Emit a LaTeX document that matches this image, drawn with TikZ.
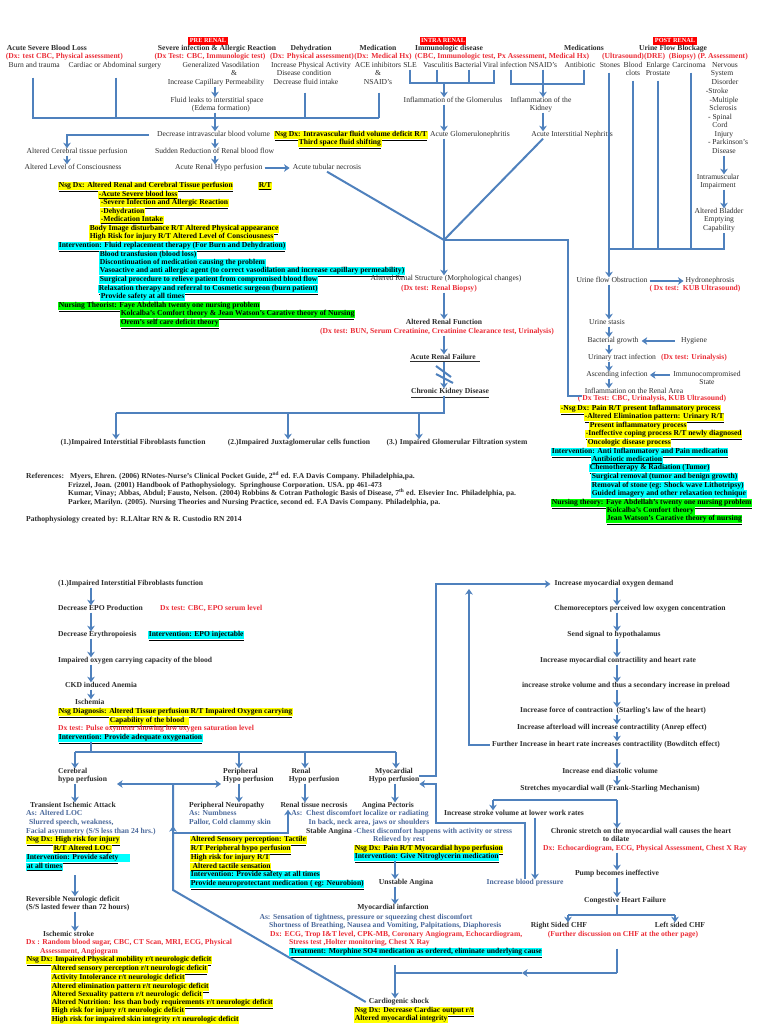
\documentclass[tikz,border=0pt]{standalone}
\usepackage{fontspec}
\setmainfont{Liberation Serif}
\usetikzlibrary{arrows.meta}
\definecolor{ablue}{RGB}{79,129,189}
\definecolor{txt}{RGB}{45,45,45}
\definecolor{rtx}{RGB}{235,45,55}
\definecolor{btx}{RGB}{75,105,155}
\definecolor{hyel}{RGB}{255,255,0}
\definecolor{hcy}{RGB}{0,255,255}
\definecolor{hgr}{RGB}{0,255,0}
\newcommand{\hlu}[1]{\underline{#1}}
\begin{document}
\begin{tikzpicture}[x=1pt,y=-1pt,
 every node/.style={inner sep=0pt, text height=5.3pt, text depth=1.7pt, font=\fontsize{7.6}{8.5}\selectfont, text=txt},
 bd/.style={font=\fontsize{7.6}{8.5}\selectfont\bfseries},
 rd/.style={bd, text=rtx},
 bt/.style={bd, text=btx},
 hy/.style={bd, text=black, fill=hyel, inner xsep=0.6pt, inner ysep=0.7pt},
 hc/.style={hy, fill=hcy},
 hg/.style={hy, fill=hgr},
 rbox/.style={font=\fontsize{6.3}{7}\selectfont\bfseries, text=white, fill=red, inner xsep=1.5pt, inner ysep=1pt, text height=4.7pt, text depth=1.3pt},
 ln/.style={draw=ablue, line width=2pt},
 arr/.style={ln, -{Stealth[length=5.5pt,width=7.5pt,inset=1.5pt]}},
 aw/.style={anchor=west},
 ae/.style={anchor=east},
]
\useasboundingbox (0,0) rectangle (768,1024);
\fill[white] (0,0) rectangle (768,1024);

% ---------------- TOP HEADINGS ----------------
\node[rbox] (pre) at (208,41) {PRE RENAL};
\node[rbox] (intra) at (443,41) {INTRA RENAL};
\node[rbox] (post) at (675,41) {POST RENAL};

\node[bd,ae] (asbl) at (87,49) {Acute Severe Blood Loss};
\node[rd,ae] (asblr) at (123,57) {(Dx: test CBC, Physical assessment)};
\node[ae] (burn) at (60,66) {Burn and trauma};
\node (cards) at (115,66) {Cardiac or Abdominal surgery};

\node[bd] (sia) at (217,49) {Severe infection \& Allergic Reaction};
\node[rd] (siar) at (210,57) {(Dx Test: CBC, Immunologic test)};
\node (genv) at (221,66) {Generalized Vasodilation};
\node (amp1) at (234,74) {\&};
\node (capp) at (216,83) {Increase Capillary Permeability};
\node (fluid) at (217,101) {Fluid leaks to interstitial space};
\node (edema) at (221,109) {(Edema formation)};

\node[bd] (dehy) at (311,49) {Dehydration};
\node[rd] (dehyr) at (312,57) {(Dx: Physical assessment)};
\node (ipa) at (311,66) {Increase Physical Activity};
\node (dcond) at (304,74) {Disease condition};
\node (dfi) at (306,83) {Decrease fluid intake};

\node[bd] (med) at (378,49) {Medication};
\node[rd] (medr) at (383,57) {(Dx: Medical Hx)};
\node (ace) at (378,66) {ACE inhibitors};
\node (amp2) at (378,74) {\&};
\node (nsaid1) at (378,83) {NSAID's};

\node[bd] (immd) at (449,49) {Immunologic disease};
\node[rd] (immr) at (502,57) {(CBC, Immunologic test, Px Assessment, Medical Hx)};
\node (sle) at (410,66) {SLE};
\node (vasc) at (438,66) {Vasculitis};
\node (bact1) at (468,66) {Bacterial};
\node (viral) at (505,66) {Viral infection};
\node (nsaid2) at (543,66) {NSAID's};
\node (antib) at (580,66) {Antibiotic};
\node[bd] (meds) at (584,49) {Medications};
\node (glom) at (453,101) {Inflammation of the Glomerulus};
\node (kid1) at (541,101) {Inflammation of the};
\node (kid2) at (541,109) {Kidney};
\node (agn) at (470,135) {Acute Glomerulonephritis};
\node (ain) at (572,135) {Acute Interstitial Nephritis};

\node[bd] (ufb) at (673,49) {Urine Flow Blockage};
\node[rd] (ufbr) at (675,57) {(Ultrasound)(DRE)\ \ (Biopsy) (P. Assessment)};
\node (stones) at (610,66) {Stones};
\node (bc1) at (633,66) {Blood};
\node (bc2) at (633,74) {clots};
\node (ep1) at (658,66) {Enlarge};
\node (ep2) at (658,74) {Prostate};
\node (carc) at (689,66) {Carcinoma};
\node (ns1) at (725,66) {Nervous};
\node (ns2) at (722,74) {System};
\node (ns3) at (725,83) {Disorder};
\node (ns4) at (717,92) {-Stroke};
\node (ns5) at (724,101) {-Multiple};
\node (ns6) at (723,109) {Sclerosis};
\node (ns7) at (720,118) {- Spinal};
\node (ns8) at (720,126) {Cord};
\node (ns9) at (724,135) {Injury};
\node (ns10) at (728,143) {- Parkinson's};
\node (ns11) at (724,152) {Disease};
\node (imp1) at (718,178) {Intramuscular};
\node (imp2) at (718,186) {Impairment};
\node (abe1) at (719,212) {Altered Bladder};
\node (abe2) at (719,220) {Emptying};
\node (abe3) at (719,229) {Capability};

\node[aw] (dint) at (157,135) {Decrease intravascular blood volume};
\node[hy,aw] (nsg1) at (274,135) {\hlu{Nsg Dx: Intravascular fluid volume deficit R/T}};
\node[hy,aw] (nsg1b) at (298,143) {\hlu{Third space fluid shifting}};
\node (acp) at (77,152) {Altered Cerebral tissue perfusion};
\node (aloc) at (73,168) {Altered Level of Consciousness};
\node[aw] (srr) at (155,152) {Sudden Reduction of Renal blood flow};
\node[aw] (arhp) at (175,168) {Acute Renal Hypo perfusion};
\node (atn) at (327,168) {Acute tubular necrosis};

% ---------------- LEFT NOTES ----------------
\node[hy,aw] (l1) at (58,186) {\hlu{Nsg Dx: Altered Renal and Cerebral Tissue perfusion}};
\node[hy,aw] (l1b) at (258,186) {\hlu{R/T}};
\node[hy,aw] (l2) at (98,195) {\hlu{-Acute Severe blood loss}};
\node[hy,aw] (l3) at (100,203) {\hlu{-Severe Infection and Allergic Reaction}};
\node[hy,aw] (l4) at (100,212) {\hlu{-Dehydration}};
\node[hy,aw] (l5) at (100,220) {\hlu{-Medication Intake}};
\node[hy,aw] (l6) at (89,229) {\hlu{Body Image disturbance R/T Altered Physical appearance}};
\node[hy,aw] (l7) at (89,237) {\hlu{High Risk for injury R/T Altered Level of Consciousness}};
\node[hc,aw] (l8) at (58,246) {\hlu{Intervention: Fluid replacement therapy (For Burn and Dehydration)}};
\node[hc,aw] (l9) at (99,255) {\hlu{Blood transfusion (blood loss)}};
\node[hc,aw] (l10) at (99,263) {\hlu{Discontinuation of medication causing the problem}};
\node[hc,aw] (l11) at (99,271) {\hlu{Vasoactive and anti allergic agent (to correct vasodilation and increase capillary permeability)}};
\node[hc,aw] (l12) at (99,280) {\hlu{Surgical procedure to relieve patient from compromised blood flow}};
\node[hc,aw] (l13) at (98,289) {\hlu{Relaxation therapy and referral to Cosmetic surgeon (burn patient)}};
\node[hc,aw] (l14) at (100,297) {\hlu{Provide safety at all times}};
\node[hg,aw] (l15) at (58,306) {\hlu{Nursing Theorist: Faye Abdellah twenty one nursing problem}};
\node[hg,aw] (l16) at (120,314) {\hlu{Kolcalba's Comfort theory \& Jean Watson's Carative theory of Nursing}};
\node[hg,aw] (l17) at (120,323) {\hlu{Orem's self care deficit theory}};

% ---------------- MIDDLE CHAIN ----------------
\node (ars) at (446,279) {Altered Renal Structure (Morphological changes)};
\node[rd] (arsr) at (439,289) {(Dx test: Renal Biopsy)};
\node[bd] (arf) at (444,323) {Altered Renal Function};
\node[rd] (arfr) at (437,332) {(Dx test: BUN, Serum Creatinine, Creatinine Clearance test, Urinalysis)};
\node[bd] (arfl) at (445,358) {\underline{Acute Renal Failure\ \ }};
\node[bd] (ckd) at (450,392) {\underline{Chronic Kidney Disease}};
\node[bd] (f1) at (133,443) {(1.)Impaired Interstitial Fibroblasts function};
\node[bd] (f2) at (299,443) {(2.)Impaired Juxtaglomerular cells function};
\node[bd] (f3) at (457,443) {(3.) Impaired Glomerular Filtration system};

\node[bd,aw] (refh) at (26,477) {References:};
\node[bd,aw] (ref1) at (70,477) {Myers, Ehren. (2006) RNotes-Nurse's Clinical Pocket Guide, 2\textsuperscript{nd} ed. F.A Davis Company. Philadelphia,pa.};
\node[bd,aw] (ref2) at (68,486) {Frizzel, Joan. (2001) Handbook of Pathophysiology.\ \ Springhouse Corporation. USA. pp 461-473};
\node[bd,aw] (ref3) at (68,494) {Kumar, Vinay; Abbas, Abdul; Fausto, Nelson. (2004) Robbins \& Cotran Pathologic Basis of Disease, 7\textsuperscript{th} ed. Elsevier Inc. Philadelphia, pa.};
\node[bd,aw] (ref4) at (68,503) {Parker, Marilyn. (2005). Nursing Theories and Nursing Practice, second ed. F.A Davis Company. Philadelphia, pa.};
\node[bd,aw] (cred) at (26,520) {Pathophysiology created by: R.I.Altar RN \& R. Custodio RN 2014};

% ---------------- RIGHT MIDDLE ----------------
\node (uobs) at (612,281) {Urine flow Obstruction};
\node (hydro) at (710,281) {Hydronephrosis};
\node[rd] (hydror) at (695,289) {( Dx test:\ \ KUB Ultrasound)};
\node (ustas) at (607,323) {Urine stasis};
\node (bgro) at (613,341) {Bacterial growth};
\node (hyg) at (694,341) {Hygiene};
\node (uti) at (622,358) {Urinary tract infection};
\node[rd] (utir) at (694,358) {(Dx test: Urinalysis)};
\node (asc) at (617,375) {Ascending infection};
\node (imc1) at (707,375) {Immunocompromised};
\node (imc2) at (707,383) {State};
\node (infl) at (634,392) {Inflammation on the Renal Area};
\node[rd] (inflr) at (652,399) {( Dx Test: CBC, Urinalysis, KUB Ultrasound)};

\node[hy,aw] (r1) at (560,409) {\hlu{-Nsg Dx: Pain R/T present Inflammatory process}};
\node[hy,aw] (r2) at (584,417) {\hlu{-Altered Elimination pattern: Urinary R/T}};
\node[hy,aw] (r3) at (589,426) {\hlu{Present inflammatory process}};
\node[hy,aw] (r4) at (585,434) {\hlu{-Ineffective coping process R/T newly diagnosed}};
\node[hy,aw] (r5) at (587,443) {\hlu{Oncologic disease process}};
\node[hc,aw] (r6) at (551,452) {\hlu{Intervention: Anti Inflammatory and Pain medication}};
\node[hc,aw] (r7) at (591,460) {\hlu{Antibiotic medication}};
\node[hc,aw] (r8) at (589,468) {\hlu{Chemotherapy \& Radiation (Tumor)}};
\node[hc,aw] (r9) at (591,477) {\hlu{Surgical removal (tumor and benign growth)}};
\node[hc,aw] (r10) at (591,486) {\hlu{Removal of stone (eg: Shock wave Lithotripsy)}};
\node[hc,aw] (r11) at (591,494) {\hlu{Guided imagery and other relaxation technique}};
\node[hg,aw] (r12) at (551,503) {\hlu{Nursing theory: Faye Abdellah's twenty one nursing problem}};
\node[hg,aw] (r13) at (606,511) {\hlu{Kolcalba's Comfort theory}};
\node[hg,aw] (r14) at (606,519) {\hlu{Jean Watson's Carative theory of nursing}};

% ---------------- BOTTOM LEFT ----------------
\node[bd,aw] (b1) at (58,584) {(1.)Impaired Interstitial Fibroblasts function};
\node[bd,aw] (b2) at (58,609) {Decrease EPO Production};
\node[rd,aw] (b2r) at (160,609) {Dx test: CBC, EPO serum level};
\node[bd,aw] (b3) at (58,635) {Decrease Erythropoiesis};
\node[hc,aw] (b3c) at (148,635) {\hlu{Intervention: EPO injectable}};
\node[bd,aw] (b4) at (58,661) {Impaired oxygen carrying capacity of the blood};
\node[bd,aw] (b5) at (65,686) {CKD induced Anemia};
\node[bd,aw] (b6) at (75,703) {Ischemia};
\node[hy,aw] (b7) at (58,712) {\hlu{Nsg Diagnosis: Altered Tissue perfusion R/T Impaired Oxygen carrying}};
\node[hy,aw] (b8) at (109,721) {\hlu{Capability of the blood\ \ }};
\node[rd,aw] (b9) at (58,729) {Dx test: Pulse oxymeter showing low oxygen saturation level};
\node[hc,aw] (b10) at (58,738) {\hlu{Intervention: Provide adequate oxygenation}};
\node[bd,aw] (cer1) at (58,772) {Cerebral};
\node[bd,aw] (cer2) at (58,780) {hypo perfusion};
\node[bd,aw] (per1) at (223,772) {Peripheral};
\node[bd,aw] (per2) at (223,780) {Hypo perfusion};
\node[bd] (ren1) at (301,772) {Renal};
\node[bd] (ren2) at (314,780) {Hypo perfusion};
\node[bd] (myo1) at (394,772) {Myocardial};
\node[bd] (myo2) at (394,780) {Hypo perfusion};

\node[bd] (tia) at (73,806) {Transient Ischemic Attack};
\node[bt,aw] (tia1) at (26,814) {As: Altered LOC};
\node[bt,aw] (tia2) at (29,823) {Slurred speech, weakness,};
\node[bt,aw] (tia3) at (26,832) {Facial asymmetry (S/S less than 24 hrs.)};
\node[hy,aw] (tia4) at (26,840) {\hlu{Nsg Dx: High risk for injury}};
\node[hy,aw] (tia5) at (53,849) {\hlu{R/T Altered LOC}};
\node[hc,aw] (tia6) at (26,858) {\hlu{Intervention: Provide safety}\hphantom{xxx}};
\node[hc,aw] (tia7) at (26,867) {\hlu{at all times}};
\node[bd,aw] (rnd1) at (26,900) {Reversible Neurologic deficit};
\node[bd,aw] (rnd2) at (26,908) {(S/S lasted fewer than 72 hours)};
\node[bd,aw] (isst) at (43,935) {Ischemic stroke};
\node[rd,aw] (isr1) at (26,943) {Dx : Random blood sugar, CBC, CT Scan, MRI, ECG, Physical};
\node[rd,aw] (isr2) at (40,952) {Assessment, Angiogram};
\node[hy,aw] (is1) at (26,960) {\hlu{Nsg Dx: Impaired Physical mobility r/t neurologic deficit}};
\node[hy,aw] (is2) at (51,969) {\hlu{Altered sensory perception r/t neurologic deficit}};
\node[hy,aw] (is3) at (51,978) {\hlu{Activity Intolerance r/t neurologic deficit}};
\node[hy,aw] (is4) at (51,987) {\hlu{Altered elimination pattern r/t neurologic deficit}};
\node[hy,aw] (is5) at (51,995) {\hlu{Altered Sexuality pattern r/t neurologic deficit}};
\node[hy,aw] (is6) at (51,1003) {\hlu{Altered Nutrition: less than body requirements r/t neurologic deficit}};
\node[hy,aw] (is7) at (51,1011) {\hlu{High risk for injury r/t neurologic deficit}};
\node[hy,aw] (is8) at (51,1020) {\hlu{High risk for impaired skin integrity r/t neurologic deficit}};

\node[bd,aw] (pn) at (189,806) {Peripheral Neuropathy};
\node[bt,aw] (pn1) at (189,814) {As: Numbness};
\node[bt,aw] (pn2) at (189,823) {Pallor, Cold clammy skin};
\node[hy,aw] (pn3) at (190,840) {\hlu{Altered Sensory perception: Tactile}};
\node[hy,aw] (pn4) at (190,849) {\hlu{R/T Peripheral hypo perfusion}};
\node[hy,aw] (pn5) at (190,858) {\hlu{High risk for injury R/T}};
\node[hy,aw] (pn6) at (190,867) {\hlu{\ Altered tactile sensation}};
\node[hc,aw] (pn7) at (190,875) {\hlu{Intervention: Provide safety at all times}};
\node[hc,aw] (pn8) at (190,884) {\hlu{Provide neuroprotectant medication ( eg: Neurobion)}};

\node[bd] (rtn) at (314,806) {Renal tissue necrosis};
\node[bd] (ang) at (388,806) {Angina Pectoris};
\node[bt] (ang1) at (360,814) {As:\ \ Chest discomfort localize or radiating};
\node[bt] (ang2) at (369,823) {In back, neck area, jaws or shoulders};
\node[bt,aw] (ang3) at (306,832) {\textcolor{txt}{Stable Angina} -Chest discomfort happens with activity or stress};
\node[bt] (ang4) at (399,840) {Relieved by rest};
\node[hy,aw] (ang5) at (354,849) {\hlu{Nsg Dx: Pain R/T Myocardial hypo perfusion}};
\node[hc,aw] (ang6) at (354,857) {\hlu{Intervention: Give Nitroglycerin medication}};
\node[bd] (ua) at (406,883) {Unstable Angina};
\node[bd] (mi) at (393,908) {Myocardial infarction};
\node[bt] (mi1) at (366,918) {As: Sensation of tightness, pressure or squeezing chest discomfort};
\node[bt,aw] (mi2) at (269,926) {Shortness of Breathing, Nausea and Vomiting, Palpitations, Diaphoresis};
\node[rd,aw] (mi3) at (270,935) {Dx: ECG, Trop I\&T level, CPK-MB, Coronary Angiogram, Echocardiogram,};
\node[rd,aw] (mi4) at (289,943) {Stress test ,Holter monitoring, Chest X Ray};
\node[hc,aw] (mi5) at (289,952) {\hlu{Treatment: Morphine SO4 medication as ordered, eliminate underlying cause}};
\node[bd] (cs) at (399,1002) {Cardiogenic shock};
\node[hy,aw] (cs1) at (354,1011) {\hlu{Nsg Dx: Decrease Cardiac output r/t}};
\node[hy,aw] (cs2) at (354,1019) {\hlu{Altered myocardial integrity}};

% ---------------- BOTTOM RIGHT ----------------
\node[bd] (dem) at (614,584) {Increase myocardial oxygen demand};
\node[bd] (chem) at (640,609) {Chemoreceptors perceived low oxygen concentration};
\node[bd] (hyp) at (614,635) {Send signal to hypothalamus};
\node[bd] (imc) at (618,661) {Increase myocardial contractility and heart rate};
\node[bd] (isv) at (626,686) {increase stroke volume and thus a secondary increase in preload};
\node[bd] (ifc) at (613,711) {Increase force of contraction\ \ (Starling's law of the heart)};
\node[bd] (iaf) at (612,728) {Increase afterload will increase contractility (Anrep effect)};
\node[bd] (fih) at (606,745) {Further Increase in heart rate increases contractility (Bowditch effect)};
\node[bd] (iedv) at (610,772) {Increase end diastolic volume};
\node[bd] (smw) at (610,789) {Stretches myocardial wall (Frank-Starling Mechanism)};
\node[bd] (isvl) at (514,814) {Increase stroke volume at lower work rates};
\node[bd] (cst1) at (641,832) {Chronic stretch on the myocardial wall causes the heart};
\node[bd] (cst2) at (616,840) {to dilate};
\node[rd] (csr) at (645,849) {Dx: Echocardiogram, ECG, Physical Assessment, Chest X Ray};
\node[bt] (ibp) at (525,883) {Increase blood pressure};
\node[bd] (pbi) at (617,874) {Pump becomes ineffective};
\node[bd] (chf) at (625,901) {Congestive Heart Failure};
\node[bd] (rchf) at (559,926) {Right Sided CHF};
\node[bd] (lchf) at (680,926) {Left sided CHF};
\node[rd] (chfr) at (623,935) {(Further discussion on CHF at the other page)};

% ================= CONNECTORS =================
\coordinate (xs) at (215,0);
\coordinate (x67) at (67,0);
\coordinate (x444) at (444,0);
\coordinate (x543) at (543,0);
\coordinate (x609) at (609,0);
\coordinate (x724) at (724,0);
\coordinate (xl) at (91,0);
\coordinate (xc) at (75,0);
\coordinate (xp) at (239,0);
\coordinate (xn) at (305,0);
\coordinate (xm) at (395,0);
\coordinate (xr) at (617,0);
\coordinate (xk) at (535,0);

% pre renal
\coordinate (pA) at (33,118); \coordinate (pB) at (116,118);
\coordinate (pC) at (305,118); \coordinate (pD) at (379,118);
\draw[ln] ([yshift=-8pt]burn.south -| pA) -- (pA) -- (pD);
\draw[ln] ([yshift=-8pt]cards.south -| pB) -- (pB);
\draw[ln] ([yshift=-6pt]dfi.south -| pC) -- (pC);
\draw[ln] ([yshift=-6pt]nsaid1.south -| pD) -- (pD);
\draw[arr] (capp.south -| xs) -- (fluid.north -| xs);
\draw[arr] (edema.south -| xs) -- (dint.north -| xs);
\draw[arr] ([xshift=-8pt]dint.west) -| (acp.north -| x67);
\draw[arr] (acp.south -| x67) -- (aloc.north -| x67);
\draw[arr] (dint.south -| xs) -- (srr.north -| xs);
\draw[arr] (srr.south -| xs) -- (arhp.north -| xs);
\draw[arr] ([xshift=2pt]arhp.east) -- ([xshift=-3pt]atn.west);

% intra renal
\coordinate (iA) at (410,83); \coordinate (iB) at (437,83);
\coordinate (iC) at (469,83); \coordinate (iD) at (494,83);
\draw[ln] (sle.south -| iA) -- (iA) -- (iD) -- (viral.south -| iD);
\draw[ln] (vasc.south -| iB) -- (iB);
\draw[ln] (bact1.south -| iC) -- (iC);
\draw[arr] (iA -| x444) -- (glom.north -| x444);
\draw[arr] (glom.south -| x444) -- (agn.north -| x444);
\coordinate (mA) at (511,84); \coordinate (mB) at (584,84);
\draw[ln] (viral.south -| mA) -- (mA) -- (mB) -- (antib.south -| mB);
\draw[arr] (nsaid2.south -| x543) -- (kid1.north -| x543);
\draw[arr] (kid2.south -| x543) -- (ain.north -| x543);

% post renal
\coordinate (sA) at (609,249); \coordinate (sB) at (633,249);
\coordinate (sC) at (658,249); \coordinate (sD) at (691,249);
\coordinate (sE) at (724,249);
\draw[arr] ([yshift=-3pt]stones.south -| x609) -- (uobs.north -| x609);
\draw[ln] (sA) -- (sE) -- (abe3.south -| sE);
\draw[ln] ([yshift=-3pt]bc2.south -| sB) -- (sB);
\draw[ln] ([yshift=-3pt]ep2.south -| sC) -- (sC);
\draw[ln] ([yshift=-3pt]carc.south -| sD) -- (sD);
\draw[arr] (ns11.south -| x724) -- (imp1.north -| x724);
\draw[arr] (imp2.south -| x724) -- (abe1.north -| x724);

% convergence
\coordinate (cv) at (444,240);
\coordinate (cR) at (568,240);
\draw[ln] (atn.south) -- (cv);
\draw[ln] (agn.south -| cv) -- (cv);
\draw[ln] (ain.south -| x543) -- (cv);
\draw[ln] ([xshift=-3pt]infl.south west) -| (cR) -- (cv);
\draw[arr] (cv) -- (ars.north -| cv);
\draw[arr] (arsr.south -| x444) -- (arf.north -| x444);
\draw[arr] (arfr.south -| x444) -- (arfl.north -| x444);
\draw[arr] (arfl.south -| x444) -- (ckd.north -| x444);
\draw[ln] (436,366) -- (451,377);
\draw[ln] (436,374) -- (453,383);
\coordinate (kA) at (116,413); \coordinate (kB) at (288,413);
\coordinate (kC) at (419,413); \coordinate (kD) at (444,413);
\draw[ln] (ckd.south -| kD) -- (kD) -- (kA);
\draw[arr] (kA) -- (f1.north -| kA);
\draw[arr] (kB) -- (f2.north -| kB);
\draw[arr] (kC) -- (f3.north -| kC);

% right middle
\draw[arr] ([xshift=2pt]uobs.east) -- ([xshift=-2pt]hydro.west);
\draw[arr] (uobs.south -| x609) -- (ustas.north -| x609);
\draw[arr] (ustas.south -| x609) -- (bgro.north -| x609);
\draw[arr] (bgro.south -| x609) -- (uti.north -| x609);
\draw[arr] (uti.south -| x609) -- (asc.north -| x609);
\draw[arr] (asc.south -| x609) -- (infl.north -| x609);
\draw[arr] ([xshift=-6pt]hyg.west) -- ([xshift=3pt]bgro.east);
\draw[arr] ([xshift=-3pt]imc1.west) -- ([xshift=2pt]asc.east);

% bottom left
\draw[arr] (b1.south -| xl) -- (b2.north -| xl);
\draw[arr] (b2.south -| xl) -- (b3.north -| xl);
\draw[arr] (b3.south -| xl) -- (b4.north -| xl);
\draw[arr] (b4.south -| xl) -- (b5.north -| xl);
\draw[arr] (b5.south -| xl) -- (b6.north -| xl);
\coordinate (hL) at (91,752); \coordinate (hA) at (75,752);
\coordinate (hB) at (239,752); \coordinate (hC) at (305,752);
\coordinate (hD) at (396,752);
\draw[ln] (b10.south -| xl) -- (hL);
\draw[ln] (hA) -- (hD);
\draw[arr] (hA) -- (cer1.north -| hA);
\draw[arr] (hB) -- (per1.north -| hB);
\draw[arr] (hC) -- (ren1.north -| hC);
\draw[arr] (hD) -- (myo1.north -| hD);
\coordinate (dA) at (117,784); \coordinate (dB) at (221,784);
\draw[ln, {Stealth[length=5.5pt,width=7.5pt,inset=1.5pt]}-{Stealth[length=5.5pt,width=7.5pt,inset=1.5pt]}] (dA) -- (dB);
\coordinate (vA) at (173,784); \coordinate (vB) at (173,833);
\coordinate (vC) at (173,890); \coordinate (vD) at (288,833);
\coordinate (vM) at (173,826);
\draw[ln] (vA) -- (vC) -- ([xshift=-3pt]cs.west);
\draw[arr] (vC) -- (vM);
\draw[arr] (vB) -- (vD) -- (rtn.south -| vD);
\draw[arr] (cer2.south -| xc) -- (tia.north -| xc);
\draw[arr] ([yshift=-4pt]tia7.south -| xc) -- (rnd1.north -| xc);
\draw[arr] (rnd2.south -| xc) -- (isst.north -| xc);
\draw[arr] (per2.south -| xp) -- (pn.north -| xp);
\draw[arr] (ren2.south -| xn) -- (rtn.north -| xn);
\draw[arr] (myo2.south -| xm) -- (ang.north -| xm);
\draw[arr] (ang6.south -| xm) -- (ua.north -| xm);
\draw[arr] (ua.south -| xm) -- (mi.north -| xm);
\draw[arr] ([yshift=-9pt]mi5.south -| xm) -- (cs.north -| xm);

% myocardial loops
\coordinate (oA) at (436,776); \coordinate (oB) at (436,584);
\draw[arr] (myo2.east |- oA) -- (oA) -- (oB) -- ([xshift=-4pt]dem.west);
\coordinate (bA) at (469,745); \coordinate (bB) at (469,589);
\draw[arr] ([xshift=-2pt]fih.west) -- (bA) -- (bB);
\coordinate (rA) at (525,823); \coordinate (rB) at (436,823);
\coordinate (rC) at (436,784);
\draw[arr] (ibp.north -| rA) -- (rA) -- (rB) -- (rC) -- (myo2.east |- rC);
\coordinate (kk1) at (493,800); \coordinate (kk2) at (617,800);
\draw[ln] (kk1) -- (kk2);
\draw[arr] (kk1) -- (isvl.north -| kk1);
\draw[arr] (kk2) -- (cst1.north -| kk2);
\draw[arr] (isvl.south -| xk) -- (ibp.north -| xk);

% right chain
\draw[arr] (dem.south -| xr) -- (chem.north -| xr);
\draw[arr] (chem.south -| xr) -- (hyp.north -| xr);
\draw[arr] (hyp.south -| xr) -- (imc.north -| xr);
\draw[arr] (imc.south -| xr) -- (isv.north -| xr);
\draw[arr] (isv.south -| xr) -- (ifc.north -| xr);
\draw[arr] (ifc.south -| xr) -- (iaf.north -| xr);
\draw[arr] (iaf.south -| xr) -- (fih.north -| xr);
\draw[arr] (fih.south -| xr) -- (iedv.north -| xr);
\draw[arr] (iedv.south -| xr) -- (smw.north -| xr);
\draw[arr] (csr.south -| xr) -- (pbi.north -| xr);
\draw[arr] (pbi.south -| xr) -- (chf.north -| xr);
\coordinate (gA) at (568,915); \coordinate (gB) at (617,915);
\coordinate (gC) at (675,915);
\draw[ln] (chf.south -| gB) -- (gB);
\draw[ln] (gA) -- (gC);
\draw[arr] (gA) -- (rchf.north -| gA);
\draw[arr] (gC) -- (lchf.north -| gC);
\coordinate (qA) at (617,973); \coordinate (qB) at (522,973);
\coordinate (qC) at (395,973);
\draw[ln] ([yshift=-10pt]chfr.south -| xr) -- (qA);
\draw[arr] (qA) -- (qB);
\draw[ln] (qB) -- (qC);
\end{tikzpicture}
\end{document}
